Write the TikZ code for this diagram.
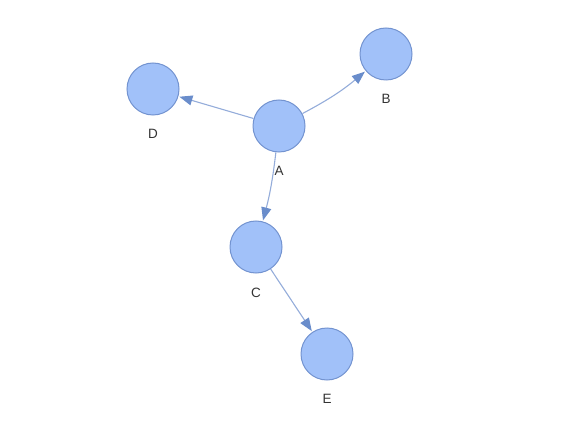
\documentclass[tikz,border=0pt]{standalone}
\usepackage{fontspec}
\setmainfont{Liberation Sans}
\usetikzlibrary{arrows.meta}

\definecolor{vfill}{HTML}{A1C1F9}
\definecolor{vdraw}{HTML}{7393D0}
\definecolor{eline}{HTML}{94ACDA}
\definecolor{ehead}{HTML}{6A8DCB}

\tikzset{
vertex/.style={circle,draw=vdraw,fill=vfill,line width=1pt,minimum size=52pt,inner sep=0pt},
vlabel/.style={font=\fontsize{13.5}{15}\selectfont,text=black!80,inner sep=0pt,yshift=-14pt},
link/.style={draw=eline,line width=1.1pt,
  -{Triangle[length=13pt,width=10pt,color=ehead]},shorten >=1pt}
}

\begin{document}
\begin{tikzpicture}[x=1pt,y=1pt]
\useasboundingbox (0,0) rectangle (564,426);

\node[vertex,label={[vlabel]below:A}] (a) at (279,300) {};
\node[vertex,label={[vlabel]below:B}] (b) at (386,372) {};
\node[vertex,label={[vlabel]below:D}] (d) at (153,337) {};
\node[vertex,label={[vlabel]below:C}] (c) at (256,179) {};
\node[vertex,label={[vlabel]below:E}] (e) at (327,72) {};

\draw[link] (a) to[bend right=6] (b);
\draw[link] (a) -- (d);
\draw[link] (a) to[bend left=4] (c);
\draw[link] (c) -- (e);
\end{tikzpicture}
\end{document}
